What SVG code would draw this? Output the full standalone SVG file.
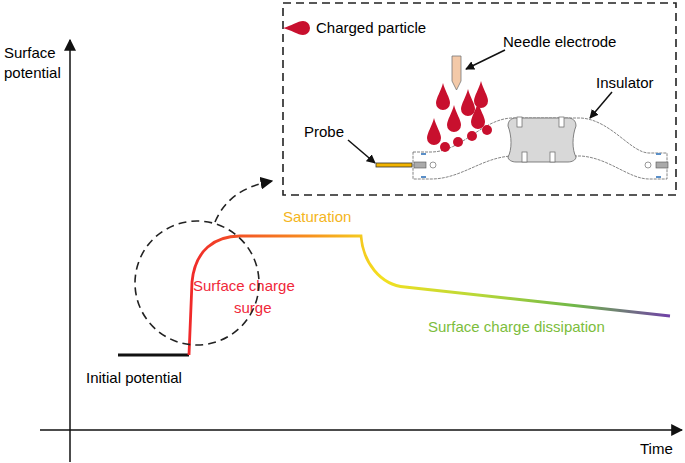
<svg xmlns="http://www.w3.org/2000/svg" width="685" height="463" viewBox="0 0 685 463">
<style>
text{font-family:"Liberation Sans",Arial,sans-serif;font-size:15px}
.d{fill:none;stroke:#222;stroke-width:1.6;stroke-dasharray:8 5}
.k{fill:none;stroke:#111;stroke-width:1.5}
.drop{fill:#c8102e}
.ins{fill:#fff;stroke:#666;stroke-width:0.8;stroke-dasharray:3 1}
</style>
<defs>
<marker id="a" viewBox="0 0 10 10" refX="9" refY="5" markerWidth="8" markerHeight="8" orient="auto"><path d="M0,0L10,5L0,10z" fill="#111"/></marker>
<marker id="s" viewBox="0 0 10 10" refX="9" refY="5" markerWidth="6" markerHeight="6" orient="auto"><path d="M0,0L10,5L0,10z" fill="#111"/></marker>
<linearGradient id="g" gradientUnits="userSpaceOnUse" x1="189" y1="0" x2="670" y2="0">
<stop offset="0" stop-color="#f0282a"/><stop offset="0.25" stop-color="#f7901e"/><stop offset="0.4" stop-color="#f4e020"/><stop offset="0.6" stop-color="#b8d838"/><stop offset="0.8" stop-color="#70b848"/><stop offset="1" stop-color="#7040a8"/>
</linearGradient>
<path id="dp" d="M0,-15C2,-7 7,0 7,5A7,7 0 0 1 -7,5C-7,0 -2,-7 0,-15z"/>
</defs>
<g id="axes">
<line class="k" x1="70" y1="462" x2="70" y2="40" marker-end="url(#a)"/>
<line class="k" x1="40" y1="430" x2="682" y2="430" marker-end="url(#a)"/>
<text x="4" y="58">Surface</text><text x="4" y="78">potential</text>
<text x="640" y="454">Time</text>
</g>
<g id="curve">
<line x1="118" y1="355" x2="189" y2="355" stroke="#111" stroke-width="3"/>
<path d="M189,355L192,282C195,250 215,236 240,236L361,236C363,262 380,285 405,287L670,316" fill="none" stroke="url(#g)" stroke-width="2.8"/>
<text x="193" y="291" fill="#f0283a">Surface charge</text>
<text x="234" y="313" fill="#f0283a">surge</text>
<text x="283" y="222" fill="#f4b520">Saturation</text>
<text x="428" y="332" fill="#7cbd3c">Surface charge dissipation</text>
<text x="86" y="383">Initial potential</text>
</g>
<g id="connectors">
<ellipse class="d" cx="197" cy="283" rx="62" ry="62"/>
<path class="d" d="M215,222C225,198 245,186 272,181" marker-end="url(#a)"/>
</g>
<g id="inset">
<rect class="d" x="283" y="3" width="393" height="192"/>
<use href="#dp" transform="translate(298,28) rotate(-90)" class="drop"/>
<text x="316" y="33">Charged particle</text>
<text x="503" y="47">Needle electrode</text>
<line class="k" x1="505" y1="50" x2="466" y2="69" marker-end="url(#s)"/>
<path d="M452,56h9v25l-4.5,9l-4.5,-9z" fill="#f3c9a8" stroke="#777" stroke-width="0.8"/>
<text x="596" y="88">Insulator</text>
<line class="k" x1="612" y1="92" x2="590" y2="118" marker-end="url(#s)"/>
<text x="304" y="137">Probe</text>
<line class="k" x1="348" y1="140" x2="375" y2="163" marker-end="url(#s)"/>
<rect x="376" y="163" width="36" height="4" fill="#f2b400" stroke="#333" stroke-width="0.8"/>
<path class="ins" d="M413,152h18c30,0 50,-32 80,-34h70c30,2 50,35 68,35h18v26h-18c-20,0 -40,-21 -68,-23h-70c-30,2 -50,23 -80,23h-18z"/>
<path d="M508,126c0,-6 4,-8 8,-8h52c4,0 8,2 8,8c-4,10 -4,24 0,31c0,3 -4,5 -8,5h-52c-4,0 -8,-2 -8,-5c4,-7 4,-21 0,-31z" fill="#d8d8d8" stroke="#666" stroke-width="0.8"/>
<g fill="#fff" stroke="#666" stroke-width="0.7">
<rect x="517" y="117" width="5" height="10"/><rect x="559" y="117" width="5" height="10"/>
<rect x="522" y="152" width="5" height="10"/><rect x="550" y="152" width="5" height="10"/>
</g>
<rect x="414" y="162" width="12" height="6" fill="#aaa" stroke="#555" stroke-width="0.6"/>
<circle cx="433" cy="165" r="3" fill="#fff" stroke="#555" stroke-width="0.6"/>
<rect x="656" y="162" width="12" height="6" fill="#aaa" stroke="#555" stroke-width="0.6"/>
<circle cx="648" cy="165" r="3" fill="#fff" stroke="#555" stroke-width="0.6"/>
<g fill="#5a8fc8"><rect x="421" y="153" width="5" height="2"/><rect x="421" y="176" width="5" height="2"/><rect x="656" y="153" width="5" height="2"/><rect x="656" y="176" width="5" height="2"/></g>
<g class="drop">
<use href="#dp" x="443" y="98"/><use href="#dp" x="481" y="96"/><use href="#dp" x="468" y="104"/>
<use href="#dp" x="454" y="120"/><use href="#dp" x="478" y="117"/><use href="#dp" x="434" y="133"/>
<circle cx="445" cy="147" r="5"/><circle cx="458" cy="142" r="5"/><circle cx="472" cy="136" r="5"/><circle cx="487" cy="130" r="5"/>
</g>
</g>
</svg>
